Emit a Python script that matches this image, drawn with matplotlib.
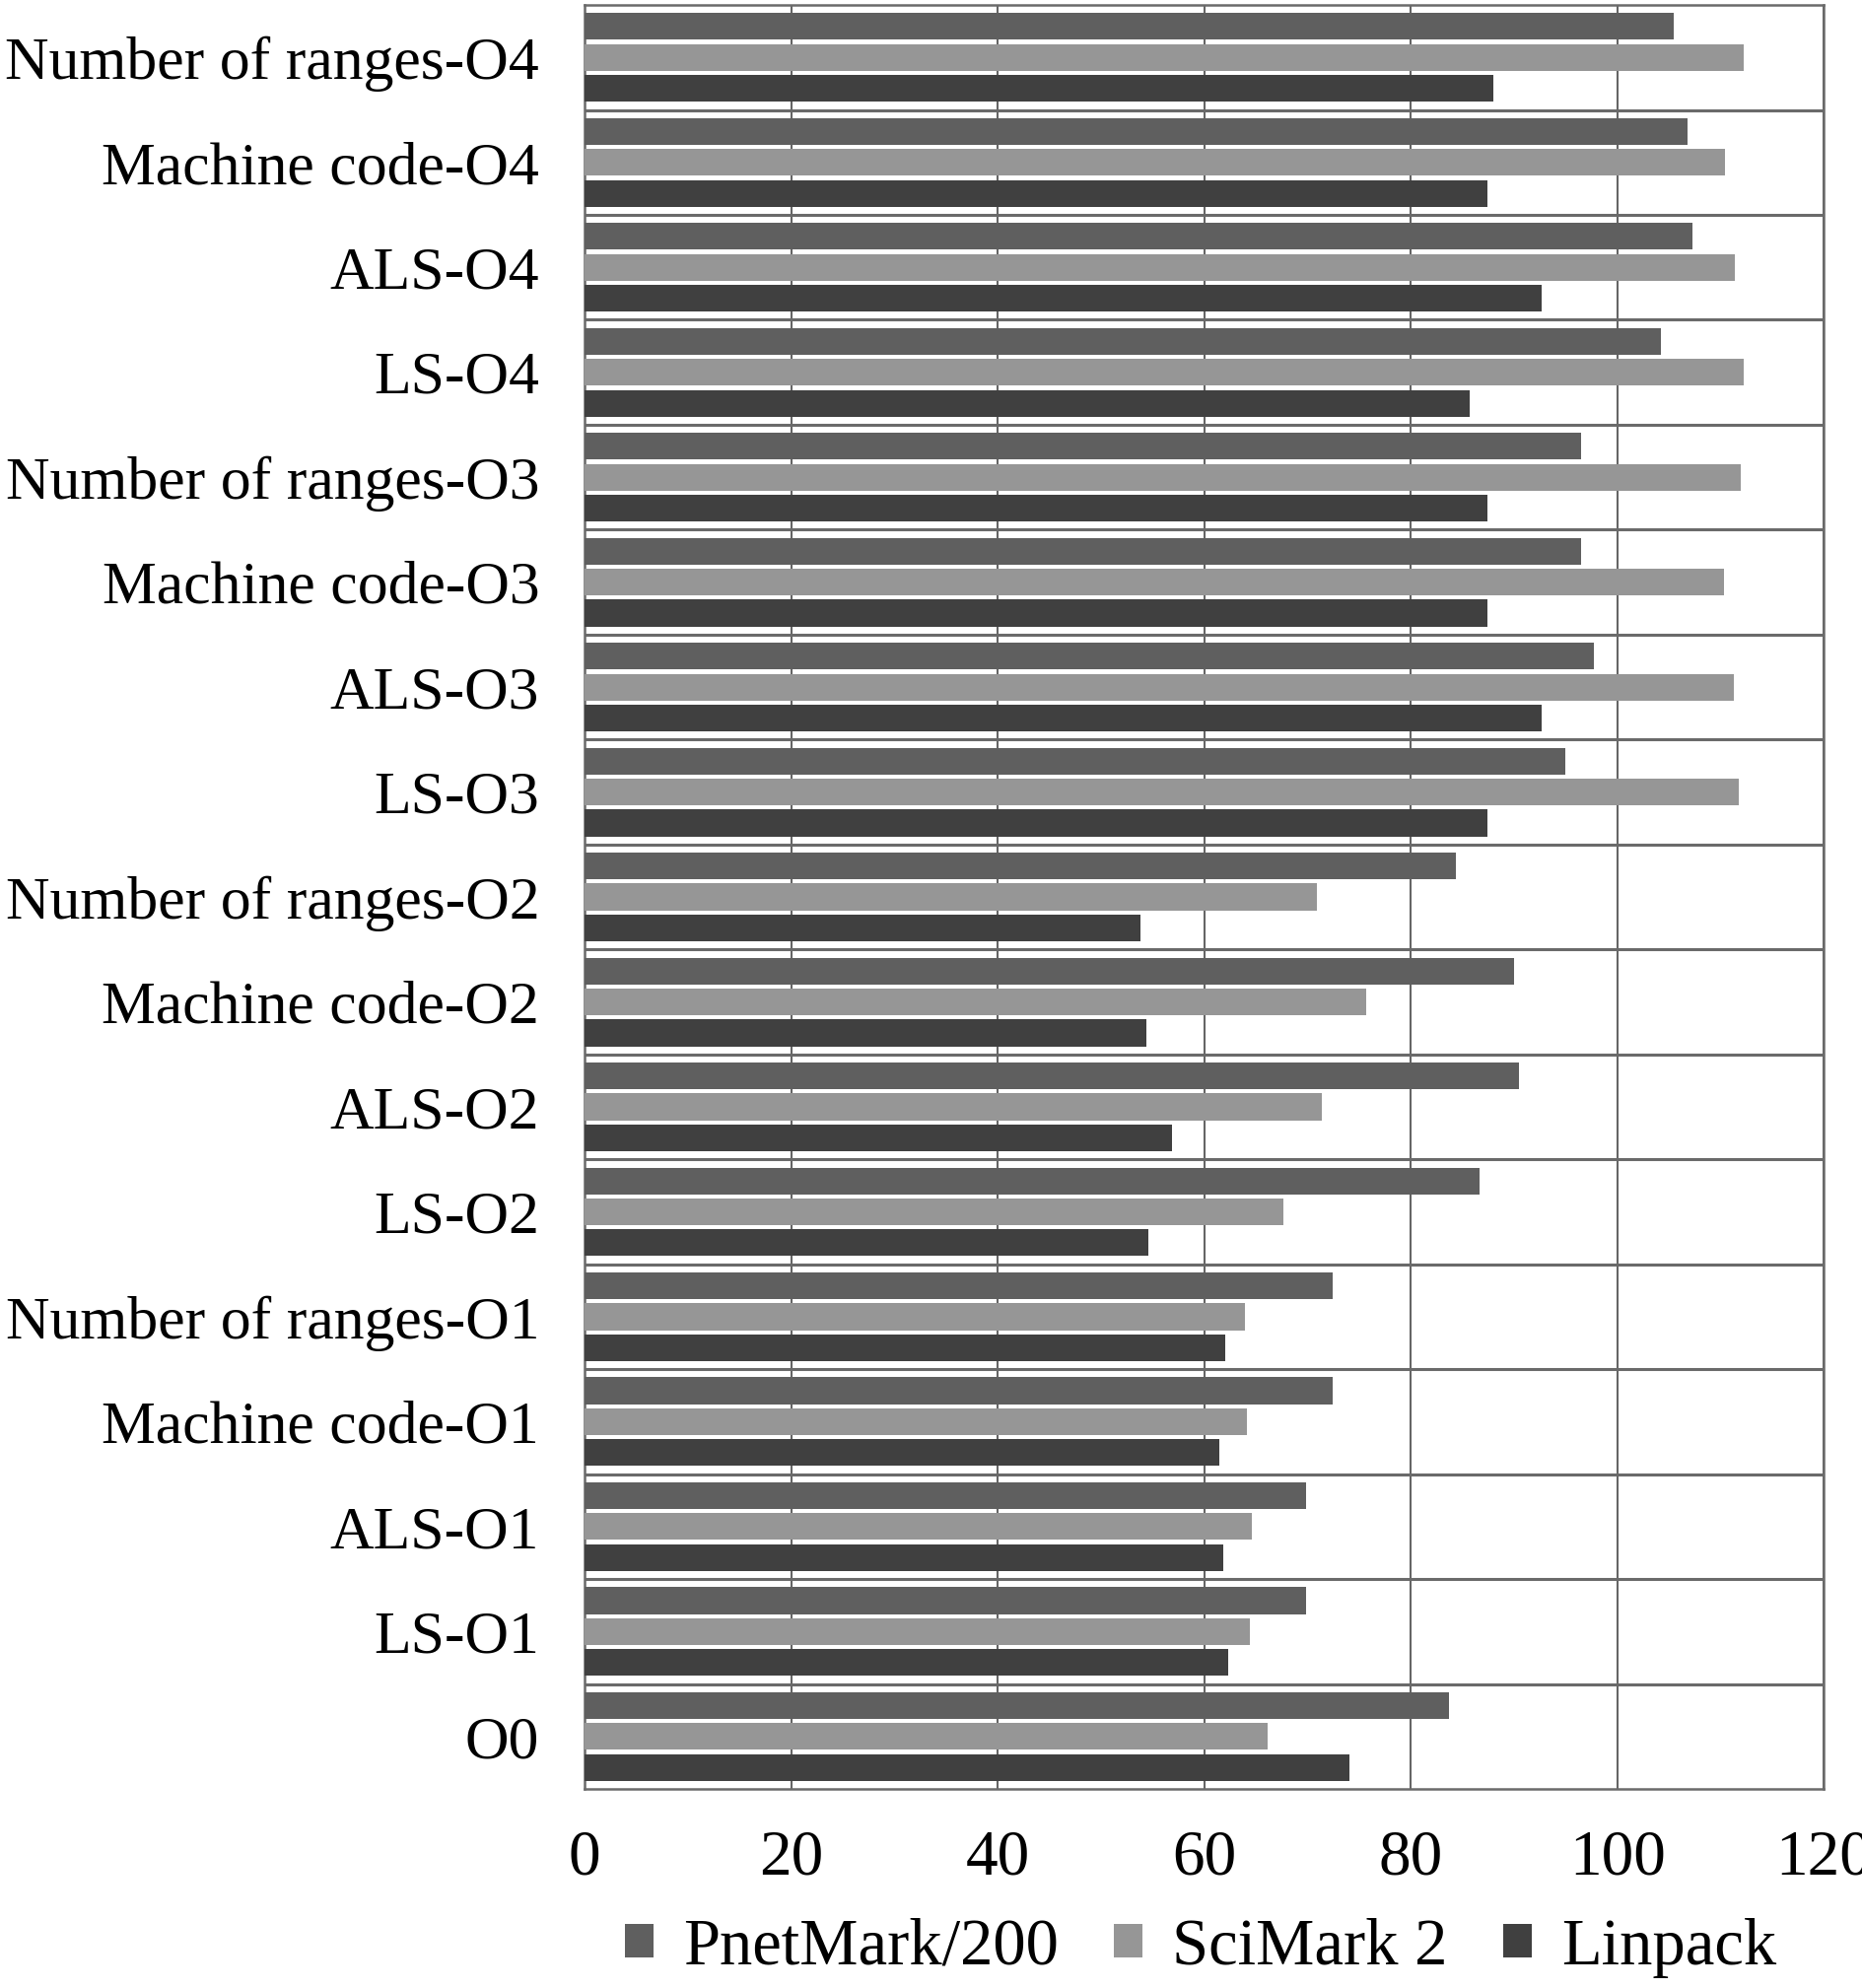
import matplotlib.pyplot as plt
import numpy as np

categories = ['O0', 'LS-O1', 'ALS-O1', 'Machine code-O1', 'Number of ranges-O1',
              'LS-O2', 'ALS-O2', 'Machine code-O2', 'Number of ranges-O2',
              'LS-O3', 'ALS-O3', 'Machine code-O3', 'Number of ranges-O3',
              'LS-O4', 'ALS-O4', 'Machine code-O4', 'Number of ranges-O4']
pnetmark = [83.7, 69.9, 69.9, 72.4, 72.4,
            86.7, 90.5, 90.0, 84.4,
            95.0, 97.7, 96.5, 96.5,
            104.2, 107.3, 106.8, 105.5]
scimark = [66.1, 64.4, 64.6, 64.1, 63.9,
           67.7, 71.4, 75.7, 70.9,
           111.8, 111.3, 110.3, 112.0,
           112.2, 111.4, 110.4, 112.2]
linpack = [74.1, 62.3, 61.8, 61.5, 62.0,
           54.6, 56.9, 54.4, 53.8,
           87.4, 92.7, 87.4, 87.4,
           85.7, 92.7, 87.4, 88.0]

plt.rcParams['font.family'] = ['Liberation Serif', 'DejaVu Serif']

fig = plt.figure(figsize=(18.9, 20.17), dpi=100)
ax = fig.add_axes([0.3138, 0.1001, 0.979 - 0.3138, 0.9975 - 0.1001])

y = np.arange(len(categories))
h = 0.255
step = 0.295
ax.barh(y + step, pnetmark, height=h, color='#5f5f5f', label='PnetMark/200', zorder=3)
ax.barh(y, scimark, height=h, color='#969696', label='SciMark 2', zorder=3)
ax.barh(y - step, linpack, height=h, color='#404040', label='Linpack', zorder=3)

ax.set_xlim(0, 120)
ax.set_ylim(-0.5, len(categories) - 0.5)
ax.set_xticks(np.arange(0, 121, 20))
ax.set_yticks(y)
ax.set_yticklabels(categories)
ax.tick_params(axis='both', length=0)
ax.tick_params(axis='y', pad=33, labelsize=44.5)
ax.tick_params(axis='x', pad=29.5, labelsize=47)

ax.grid(axis='x', color='#666666', linewidth=1.5, zorder=1)
for b in y[:-1] + 0.5:
    ax.axhline(b, color='#6a6a6a', linewidth=2.2, zorder=2)
for s in ax.spines.values():
    s.set_color('#6a6a6a')
    s.set_linewidth(1.8)

# legend sits under the x labels, centred on the plot area
fig.legend(loc='center', bbox_to_anchor=(1218 / 1890, 1 - 1976 / 2017), ncol=3,
           frameon=False, fontsize=48, handlelength=0.43, handleheight=0.41,
           handletextpad=0.45, columnspacing=0.85, borderpad=0)

fig.savefig('out.png', dpi=100)
